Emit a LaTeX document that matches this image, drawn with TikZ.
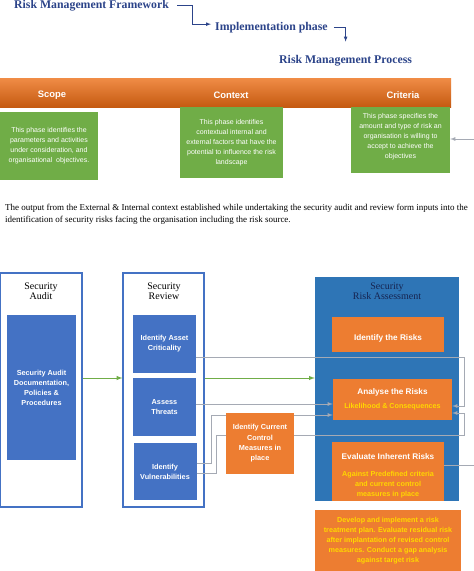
\documentclass[tikz,border=0pt]{standalone}
\usepackage{fontspec}
\setmainfont{Liberation Serif}
\setsansfont{Liberation Sans}
\usetikzlibrary{arrows,shapes}
\usetikzlibrary{calc}

\definecolor{hdblue}{RGB}{44,68,138}
\definecolor{boxblue}{RGB}{68,114,196}
\definecolor{srablue}{RGB}{46,117,182}
\definecolor{navy}{RGB}{22,36,80}
\definecolor{boxorange}{RGB}{237,125,49}
\definecolor{boxgreen}{RGB}{112,173,71}
\definecolor{linegray}{RGB}{165,170,180}
\definecolor{txtyellow}{RGB}{255,215,0}
\newcommand{\subtxt}{\color{txtyellow}\sffamily\bfseries\fontsize{7.2}{10}\selectfont}

\begin{document}
\begin{tikzpicture}[x=1pt, y=-1pt,
	hd/.style={font=\bfseries\fontsize{11.8}{13}\selectfont, text=hdblue, inner sep=1pt},
	hdarrow/.style={hdblue, line width=0.7pt, -latex},
	barlbl/.style={font=\sffamily\bfseries\fontsize{9.4}{11}\selectfont, text=white},
	phase/.style={fill=boxgreen, text=white, font=\sffamily\fontsize{7}{10}\selectfont, align=center, inner sep=0pt},
	sect/.style={draw=boxblue, line width=1.2pt, inner sep=0pt},
	secttl/.style={font=\fontsize{10}{10.5}\selectfont, align=center},
	bluebox/.style={fill=boxblue, text=white, font=\sffamily\bfseries\fontsize{7.3}{10}\selectfont, align=center, inner sep=0pt},
	orbox/.style={fill=boxorange, text=white, font=\sffamily\bfseries\fontsize{8.2}{10}\selectfont, align=center, inner sep=0pt},
	sub/.style={text=txtyellow, font=\sffamily\bfseries\fontsize{7.2}{10}\selectfont},
	garrow/.style={linegray, line width=0.8pt, -latex},
	gline/.style={linegray, line width=0.8pt},
	grarrow/.style={boxgreen, line width=1pt, -latex}]
	\path[use as bounding box, fill=white] (0,0) rectangle (474,571);

	\node[hd, anchor=base west] (rmf) at (13,8.5) {Risk Management Framework};
	\node[hd, anchor=base west] (impl) at (214,30) {Implementation phase};
	\node[hd, anchor=base west] (rmp) at (278,63) {Risk Management Process};
	\draw[hdarrow, shorten <=7pt, shorten >=3pt] (rmf.east) -- ++(22,0) |- ([yshift=3pt]impl.west);
	\draw[hdarrow, shorten <=5pt, shorten >=12pt] (impl.east) -| (rmp.north);

	\node[minimum width=451pt, minimum height=29pt, inner sep=0pt, top color={rgb,255:red,240;green,140;blue,70}, bottom color={rgb,255:red,197;green,90;blue,17}] (bar) at (225.5,92.5) {};
	\foreach \x/\lbl in {52/Scope, 231/Context, 403/Criteria}
		\node[barlbl] (lbl\lbl) at (\x,95) {\lbl};

	\node[phase, minimum width=98pt, minimum height=68pt] (scope) at (49,146) {This phase identifies the\\parameters and activities\\under consideration, and\\organisational\ \ objectives.};
	\node[phase, minimum width=103pt, minimum height=71pt] (context) at (231.5,142.5) {This phase identifies\\contextual internal and\\external factors that have the\\potential to influence the risk\\landscape};
	\node[phase, minimum width=99pt, minimum height=66pt] (crit) at (400.5,140) {This phase specifies the\\amount and type of risk an\\organisation is willing to\\accept to achieve the\\objectives\\[-1pt]\mbox{}};
	\coordinate (critin) at (474,139);
	\draw[garrow] (critin) -- (critin -| crit.east);

	\node[anchor=north west, align=left, inner sep=0pt, font=\fontsize{9}{11.7}\selectfont] (note) at (5,203.8) {The output from the External \& Internal context established while undertaking the security audit and review form inputs into the\\identification of security risks facing the organisation including the risk source.};

	\node[sect, minimum width=82pt, minimum height=234pt] (audit) at (41,390) {};
	\node[sect, minimum width=81pt, minimum height=234pt] (review) at (163.5,390) {};
	\node[secttl] (audittl) at (41,291) {Security\\Audit};
	\node[secttl] (reviewtl) at (164,291) {Security\\Review};
	\node[bluebox, minimum width=69pt, minimum height=145pt] (auditdoc) at (41.5,387.5) {Security Audit\\Documentation,\\Policies \&\\Procedures};
	\node[bluebox, minimum width=63pt, minimum height=58pt] (asset) at (164.5,344) {Identify Asset\\Criticality};
	\node[bluebox, minimum width=63pt, minimum height=58pt] (threats) at (164.5,407) {Assess\\Threats};
	\node[bluebox, minimum width=63pt, minimum height=57pt] (vuln) at (165,471.5) {Identify\\Vulnerabilities};

	\node[fill=srablue, minimum width=144pt, minimum height=224pt, inner sep=0pt] (sra) at (387,389) {};
	\node[secttl, text=navy] (sratl) at (387,291) {Security\\Risk Assessment};
	\node[orbox, minimum width=112pt, minimum height=35pt] (identify) at (388,334.5) {\mbox{}\\[3pt]Identify the Risks};
	\node[orbox, minimum width=119pt, minimum height=41pt] (analyse) at (392.5,399.5) {Analyse the Risks\\[4pt]{\subtxt Likelihood \& Consequences}};
	\node[orbox, minimum width=112pt, minimum height=59pt] (evaluate) at (388,471.5) {\mbox{}\\[4pt]Evaluate Inherent Risks\\[7pt]{\subtxt Against Predefined criteria}\\{\subtxt and current control}\\{\subtxt measures in place}};
	\node[orbox, minimum width=146pt, minimum height=61pt, sub] (develop) at (388,540.5) {Develop and implement a risk\\treatment plan. Evaluate residual risk\\after implantation of revised control\\measures. Conduct a gap analysis\\against target risk};

	\coordinate (ga) at (0,378);
	\coordinate (rx) at (464,0);
	\coordinate (lowlane) at (0,435);
	\coordinate (evout) at (474,465);
	\draw[grarrow] (audit.east |- ga) -- (review.west |- ga);
	\draw[grarrow] (review.east |- ga) -- (sra.west |- ga);
	\draw[garrow] ([yshift=-13pt]asset.east) -- ([yshift=-13pt]asset.east -| rx) |- ([yshift=-6.5pt]analyse.east);
	\draw[garrow] ([yshift=3pt]threats.east) -- ([yshift=3pt]threats.east -| analyse.west);
	\draw[garrow] ([yshift=8.5pt]vuln.east) -- ++(15,0) |- ([yshift=-15.5pt]analyse.west);
	\draw[garrow] ([yshift=-1.5pt]vuln.east) -- ++(20,0) |- (lowlane -| rx) |- ([yshift=-13.5pt]analyse.east);
	\draw[gline] (evaluate.east |- evout) -- (evout);

	\node[orbox, font=\sffamily\bfseries\fontsize{7.3}{10.3}\selectfont, minimum width=68pt, minimum height=61pt] (control) at (260,443.5) {Identify Current\\Control\\Measures in\\place};
\end{tikzpicture}
\end{document}
